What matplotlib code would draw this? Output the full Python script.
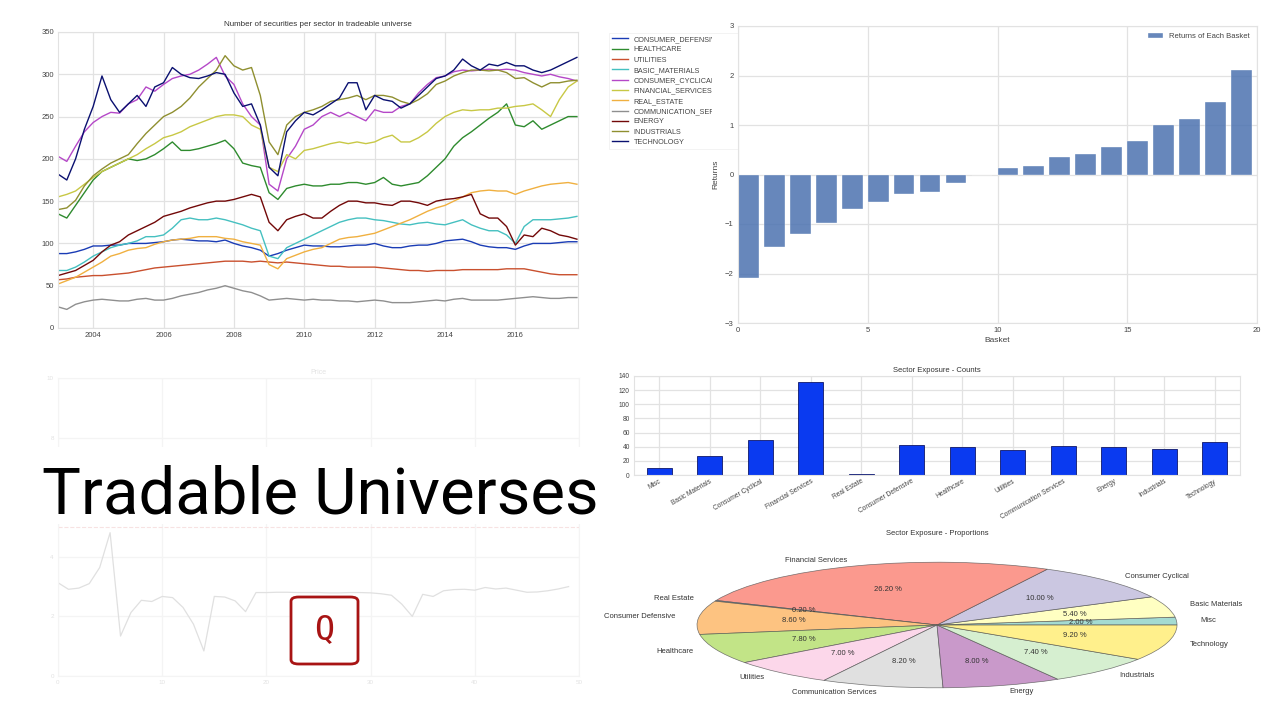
import numpy as np
import matplotlib.pyplot as plt
from matplotlib.patches import FancyBboxPatch, Rectangle
from matplotlib.transforms import Bbox, TransformedBbox

plt.rcParams['font.family'] = ['Liberation Sans', 'DejaVu Sans']

# securities per sector
quarters = np.arange(2003, 2018, 0.25)

consumer_defensive = [88, 88, 90, 93, 97, 97, 98, 98, 100, 100, 100, 101, 102, 104, 105, 104,
                      103, 103, 102, 104, 100, 97, 95, 92, 85, 88, 92, 95, 98, 97, 97, 96,
                      96, 97, 98, 98, 100, 97, 95, 95, 97, 98, 98, 100, 103, 104, 105, 102,
                      98, 96, 95, 95, 93, 97, 100, 100, 100, 101, 102, 102]
healthcare = [135, 130, 145, 160, 175, 185, 190, 195, 200, 198, 200, 205, 212, 220, 210, 210,
              212, 215, 218, 222, 212, 195, 192, 190, 160, 152, 165, 168, 170, 168, 168, 170,
              170, 172, 172, 170, 172, 178, 170, 168, 170, 172, 180, 190, 200, 215, 225, 232,
              240, 248, 255, 265, 240, 238, 245, 235, 240, 245, 250, 250]
utilities = [57, 58, 60, 61, 62, 62, 63, 64, 65, 67, 69, 71, 72, 73, 74, 75,
             76, 77, 78, 79, 79, 79, 78, 79, 78, 77, 78, 77, 76, 75, 74, 73,
             73, 72, 72, 72, 72, 71, 70, 69, 68, 68, 67, 68, 68, 68, 69, 69,
             69, 69, 69, 70, 70, 70, 68, 66, 64, 63, 63, 63]
basic_materials = [68, 68, 72, 78, 85, 90, 95, 98, 100, 103, 108, 108, 110, 118, 128, 130,
                   128, 128, 130, 128, 125, 122, 118, 115, 85, 82, 95, 100, 105, 110, 115, 120,
                   125, 128, 130, 130, 128, 127, 125, 123, 122, 124, 125, 123, 122, 125, 128, 122,
                   118, 115, 115, 110, 100, 120, 128, 128, 128, 129, 130, 132]
consumer_cyclical = [203, 197, 215, 232, 243, 250, 255, 254, 265, 270, 285, 280, 288, 295, 298, 300,
                     305, 312, 320, 298, 288, 265, 250, 240, 170, 162, 200, 215, 235, 240, 250, 255,
                     250, 255, 250, 245, 258, 255, 255, 262, 265, 278, 288, 296, 298, 303, 305, 304,
                     305, 306, 305, 306, 305, 302, 300, 298, 300, 297, 295, 292]
financial_services = [155, 158, 162, 170, 178, 185, 190, 195, 200, 205, 212, 218, 225, 228, 232, 238,
                      242, 246, 250, 252, 252, 250, 240, 235, 190, 185, 205, 200, 210, 212, 215, 218,
                      220, 218, 220, 218, 220, 225, 228, 220, 220, 225, 232, 242, 250, 255, 258, 257,
                      258, 258, 260, 260, 262, 263, 265, 258, 250, 270, 285, 292]
real_estate = [52, 56, 60, 66, 72, 78, 85, 88, 92, 94, 95, 99, 102, 104, 105, 106,
               108, 108, 108, 106, 105, 102, 100, 98, 75, 70, 82, 86, 90, 93, 95, 100,
               105, 107, 108, 110, 112, 116, 120, 124, 128, 133, 138, 142, 145, 150, 155, 160,
               162, 163, 162, 162, 158, 162, 165, 168, 170, 171, 172, 170]
communication_services = [25, 22, 28, 31, 33, 34, 33, 32, 32, 34, 35, 33, 33, 35, 38, 40,
                          42, 45, 47, 50, 47, 44, 42, 38, 33, 34, 35, 34, 33, 34, 33, 33,
                          32, 32, 31, 32, 33, 32, 30, 30, 30, 31, 32, 33, 32, 34, 35, 33,
                          33, 33, 33, 34, 35, 36, 37, 36, 35, 35, 36, 36]
energy = [62, 65, 68, 74, 80, 90, 98, 102, 110, 115, 120, 125, 132, 135, 138, 142,
          145, 148, 150, 150, 152, 155, 158, 155, 125, 115, 128, 132, 135, 130, 130, 138,
          145, 150, 150, 148, 148, 146, 145, 150, 150, 148, 145, 150, 152, 153, 155, 158,
          135, 130, 130, 120, 98, 110, 108, 118, 115, 110, 108, 105]
industrials = [140, 142, 151, 168, 180, 188, 195, 200, 205, 218, 230, 240, 250, 255, 262, 272,
               285, 295, 305, 322, 310, 305, 308, 275, 220, 205, 240, 250, 255, 258, 262, 268,
               270, 272, 275, 270, 275, 275, 273, 268, 265, 270, 277, 288, 292, 298, 302, 305,
               305, 304, 305, 302, 295, 296, 290, 285, 290, 290, 292, 293]
technology = [182, 175, 200, 235, 262, 298, 270, 255, 265, 275, 262, 285, 290, 308, 300, 296,
              295, 298, 302, 300, 278, 262, 265, 240, 190, 180, 232, 245, 255, 252, 258, 265,
              272, 290, 290, 258, 275, 270, 268, 260, 265, 275, 285, 295, 298, 305, 318, 310,
              305, 312, 310, 314, 310, 310, 305, 302, 305, 310, 315, 320]

sector_names = ['CONSUMER_DEFENSIVE', 'HEALTHCARE', 'UTILITIES', 'BASIC_MATERIALS',
                'CONSUMER_CYCLICAL', 'FINANCIAL_SERVICES', 'REAL_ESTATE',
                'COMMUNICATION_SERVICES', 'ENERGY', 'INDUSTRIALS', 'TECHNOLOGY']
sector_series = [consumer_defensive, healthcare, utilities, basic_materials, consumer_cyclical,
                 financial_services, real_estate, communication_services, energy, industrials,
                 technology]
sector_colors = ['#1a3cb5', '#2e8b2e', '#c9502e', '#45c0c0', '#b548c8', '#c8c845',
                 '#f0b040', '#8f8f8f', '#720808', '#8f8f30', '#0a1070']

# basket returns
baskets = np.arange(20)
basket_returns = [-2.10, -1.47, -1.20, -0.97, -0.70, -0.55, -0.39, -0.35, -0.18, -0.02,
                  0.13, 0.17, 0.35, 0.41, 0.56, 0.67, 1.00, 1.12, 1.47, 2.12]

# sector exposure
exposure_sectors = ['Misc', 'Basic Materials', 'Consumer Cyclical', 'Financial Services',
                    'Real Estate', 'Consumer Defensive', 'Healthcare', 'Utilities',
                    'Communication Services', 'Energy', 'Industrials', 'Technology']
exposure_counts = [10, 27, 50, 131, 1, 43, 39, 35, 41, 40, 37, 46]

# faded price line behind the title
price_x = np.arange(50)
price_y = [3.13, 2.91, 2.95, 3.1, 3.64, 4.81, 1.34, 2.13, 2.54, 2.5,
           2.67, 2.63, 2.3, 1.74, 0.84, 2.67, 2.65, 2.52, 2.16, 2.8,
           2.8, 2.81, 2.81, 2.8, 2.8, 2.8, 2.79, 2.79, 2.8, 2.8,
           2.79, 2.76, 2.71, 2.41, 2.0, 2.74, 2.67, 2.86, 2.9, 2.91,
           2.88, 2.97, 2.92, 2.95, 2.88, 2.81, 2.82, 2.86, 2.92, 3.0]


def style_axes(ax, fs, grid='#e2e2e2', text='#444444'):
    ax.set_facecolor('white')
    ax.grid(True, color=grid, lw=0.9)
    ax.set_axisbelow(True)
    for s in ax.spines.values():
        s.set_color(grid)
    ax.tick_params(length=0, labelsize=fs, colors=text, pad=3)


fig = plt.figure(figsize=(12.8, 7.2), dpi=100)

# top left: securities per sector
ax1 = fig.add_axes([58 / 1280, 1 - 328 / 720, 520 / 1280, 296 / 720])
style_axes(ax1, 5.5)
for name, vals, c in zip(sector_names, sector_series, sector_colors):
    ax1.plot(quarters, vals, color=c, lw=1.0, label=name)
ax1.set_xlim(2003, 2017.78)
ax1.set_ylim(0, 350)
ax1.set_xticks([2004, 2006, 2008, 2010, 2012, 2014, 2016])
ax1.set_title('Number of securities per sector in tradeable universe', fontsize=5.8,
              color='#333333', pad=4)
leg = ax1.legend(loc='upper left', bbox_to_anchor=(609 / 1280, 1 - 33 / 720),
                 bbox_transform=fig.transFigure, fontsize=5.2, labelspacing=0.45,
                 handlelength=2.2, frameon=True, fancybox=False, borderaxespad=0)
leg.get_frame().set_edgecolor('#eeeeee')
leg.get_frame().set_linewidth(0.6)
clip = TransformedBbox(Bbox.from_extents(0, 0, 712 / 1280, 1), fig.transFigure)
for t in leg.get_texts():
    t.set_color('#444444')
    t.set_clip_on(True)
    t.set_clip_box(clip)

# top right: returns per basket
ax2 = fig.add_axes([738 / 1280, 1 - 323 / 720, 519 / 1280, 297 / 720])
style_axes(ax2, 5.5)
ax2.bar(baskets, basket_returns, width=0.8, align='edge', color='#4c72b0', alpha=0.85,
        edgecolor='white', lw=0.3, label='Returns of Each Basket')
ax2.set_xlim(0, 20)
ax2.set_ylim(-3, 3)
ax2.set_xticks([0, 5, 10, 15, 20])
ax2.set_xlabel('Basket', fontsize=6, color='#444444', labelpad=2)
ax2.set_ylabel('Returns', fontsize=6, color='#444444', labelpad=4)
lg2 = ax2.legend(loc='upper right', fontsize=5.5, frameon=False)
for t in lg2.get_texts():
    t.set_color('#444444')

# bottom right: exposure counts
ax3 = fig.add_axes([634 / 1280, 1 - 475 / 720, 606 / 1280, 99 / 720])
style_axes(ax3, 4.8)
pos = np.arange(len(exposure_sectors))
ax3.bar(pos, exposure_counts, width=0.5, color='#0a3af0', edgecolor='#10186a', lw=0.6)
ax3.set_xlim(-0.5, len(exposure_sectors) - 0.5)
ax3.set_ylim(0, 140)
ax3.set_yticks(range(0, 141, 20))
ax3.set_xticks(pos)
ax3.set_xticklabels(exposure_sectors, rotation=30, ha='right', rotation_mode='anchor')
ax3.tick_params(axis='x', pad=2)
ax3.set_title('Sector Exposure - Counts', fontsize=5.5, color='#333333', pad=3)

# bottom right: exposure proportions
ax4 = fig.add_axes([637 / 1280, 1 - 703.5 / 720, 600 / 1280, 157 / 720])
pie_colors = plt.get_cmap('Set3').colors[:len(exposure_sectors)]
wedges, labels, pcts = ax4.pie(exposure_counts, labels=exposure_sectors, colors=pie_colors,
                               autopct='%.2f %%', startangle=0, labeldistance=1.1,
                               pctdistance=0.6,
                               wedgeprops=dict(edgecolor='#555555', linewidth=0.5, alpha=0.8),
                               textprops=dict(fontsize=5.5, color='#333333'))
ax4.set_aspect('auto')
ax4.set_xlim(-1.25, 1.25)
ax4.set_ylim(-1.25, 1.25)
ax4.set_title('Sector Exposure - Proportions', fontsize=5.5, color='#333333', pad=8)

# bottom left: faded price chart
ax5 = fig.add_axes([58 / 1280, 1 - 676 / 720, 521 / 1280, 298 / 720])
style_axes(ax5, 4.5, grid='#f4f4f4', text='#e2e2e2')
ax5.plot(price_x, price_y, color='#e0e0e0', lw=0.9)
ax5.axhline(5, color='#f7e2e2', lw=0.8, ls='--')
ax5.set_xlim(0, 50)
ax5.set_ylim(0, 10)
ax5.set_yticks([0, 2, 4, 8, 10])
ax5.set_title('Price', fontsize=5, color='#e2e2e2', pad=3)

# title band and logo
fig.patches.append(Rectangle((30 / 1280, 1 - 524 / 720), 570 / 1280, 77 / 720,
                             transform=fig.transFigure, facecolor='white', edgecolor='none',
                             zorder=5))
fig.text(42 / 1280, 1 - 514 / 720, 'Tradable Universes', fontsize=47, color='black',
         family=['Roboto', 'DejaVu Sans'], va='baseline', ha='left', zorder=6)
fig.patches.append(FancyBboxPatch((291 / 1280, 1 - 664 / 720), 67 / 1280, 67 / 720,
                                  boxstyle='round,pad=0,rounding_size=0.006',
                                  transform=fig.transFigure, facecolor='white',
                                  edgecolor='#a81414', lw=2.0, zorder=7))
fig.text(324.5 / 1280, 1 - 630 / 720, 'Q', fontsize=24, color='#a81414',
         family=['DejaVu Sans Mono'], ha='center', va='center', zorder=8)

fig.savefig('out.png', dpi=100, facecolor='white')
